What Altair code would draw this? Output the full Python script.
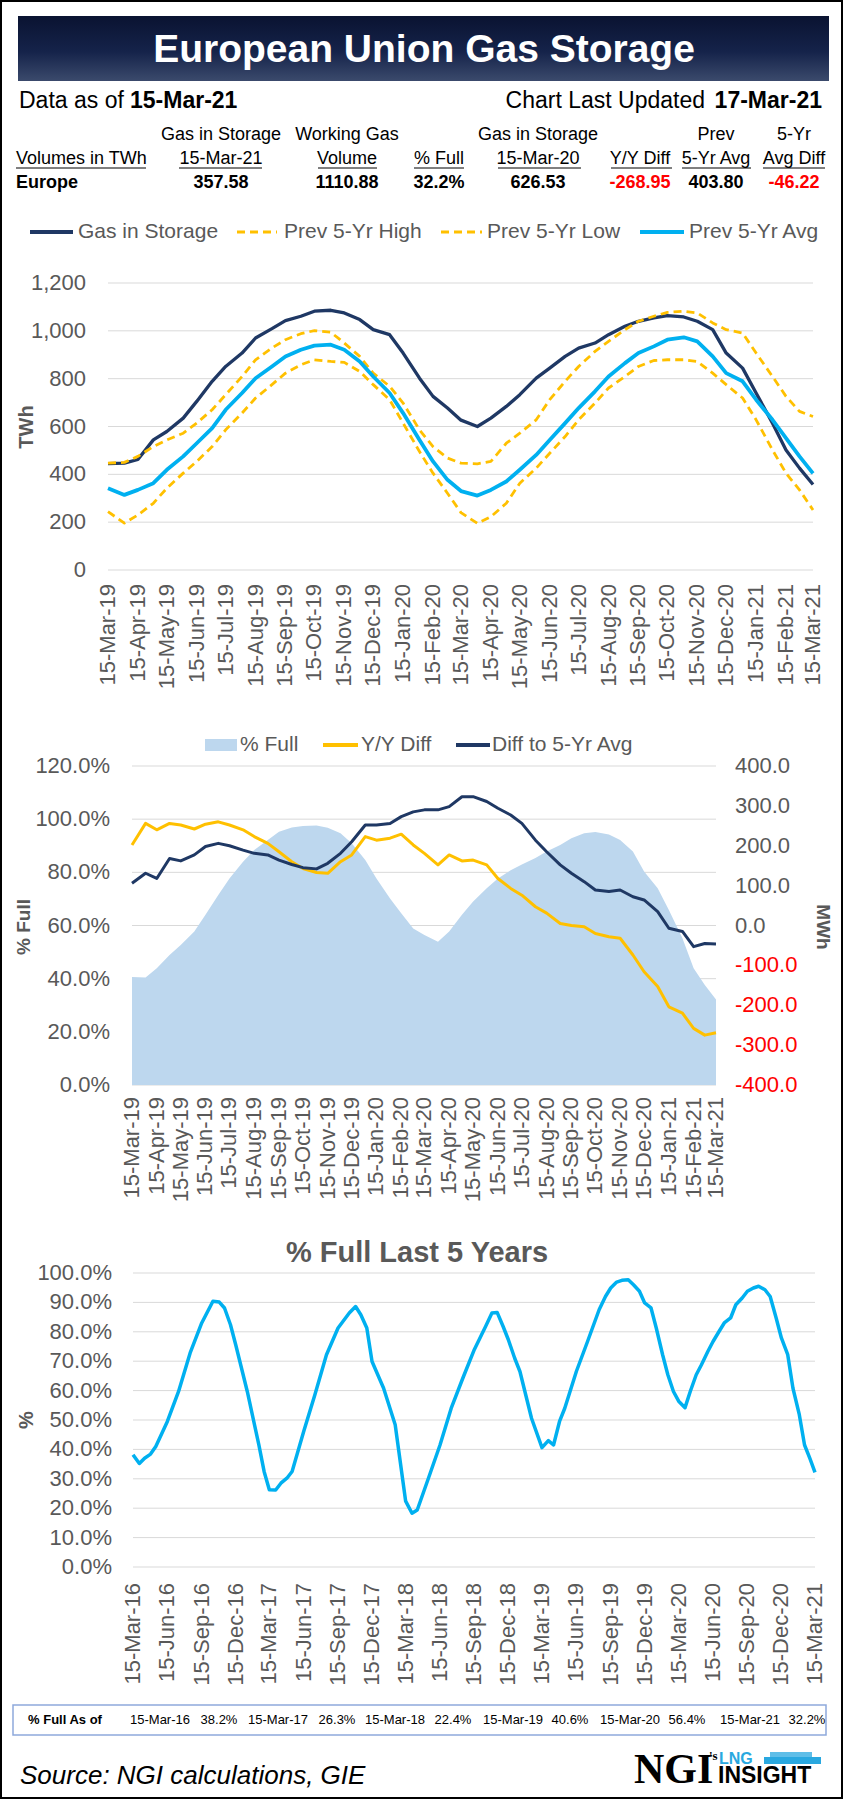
import altair as alt
import pandas as pd

# ---------------------------------------------------------------- data
MONTH_LABELS = [
    "15-Mar-19", "15-Apr-19", "15-May-19", "15-Jun-19", "15-Jul-19", "15-Aug-19",
    "15-Sep-19", "15-Oct-19", "15-Nov-19", "15-Dec-19", "15-Jan-20", "15-Feb-20",
    "15-Mar-20", "15-Apr-20", "15-May-20", "15-Jun-20", "15-Jul-20", "15-Aug-20",
    "15-Sep-20", "15-Oct-20", "15-Nov-20", "15-Dec-20", "15-Jan-21", "15-Feb-21",
    "15-Mar-21",
]
QUARTER_LABELS = [
    "15-Mar-16", "15-Jun-16", "15-Sep-16", "15-Dec-16", "15-Mar-17", "15-Jun-17",
    "15-Sep-17", "15-Dec-17", "15-Mar-18", "15-Jun-18", "15-Sep-18", "15-Dec-18",
    "15-Mar-19", "15-Jun-19", "15-Sep-19", "15-Dec-19", "15-Mar-20", "15-Jun-20",
    "15-Sep-20", "15-Dec-20", "15-Mar-21",
]

# Twice-monthly readings (15th and 1st), 15-Mar-19 .. 15-Mar-21, TWh
gas_in_storage = [445, 447, 462, 544, 579, 635, 705, 789, 851, 907, 970, 1009, 1043, 1061,
                  1082, 1086, 1075, 1047, 1005, 984, 907, 802, 726, 677, 626.53, 600, 635,
                  684, 733, 802, 844, 893, 928, 949, 984, 1019, 1040, 1054, 1064, 1058, 1040,
                  1005, 907, 844, 740, 614, 502, 426, 357.58]
prev_5yr_high = [447, 450, 475, 516, 544, 572, 614, 670, 733, 809, 879, 928, 963, 988, 1001,
                 994, 949, 893, 823, 768, 698, 586, 516, 468, 447, 444, 454, 530, 572, 628,
                 712, 789, 851, 914, 956, 1005, 1040, 1061, 1077, 1082, 1075, 1033, 1005, 991,
                 907, 809, 726, 663, 642]
prev_5yr_low = [244, 196, 230, 279, 342, 405, 454, 516, 586, 656, 719, 775, 823, 858, 879,
                872, 868, 830, 775, 712, 614, 495, 405, 321, 240, 195, 223, 279, 363, 426,
                488, 558, 628, 698, 761, 809, 851, 876, 879, 879, 872, 823, 775, 719, 628,
                502, 405, 335, 251]
prev_5yr_avg = [342, 314, 335, 363, 419, 475, 530, 593, 670, 740, 802, 851, 893, 921, 938,
                942, 921, 872, 809, 740, 656, 544, 454, 377, 330, 311, 335, 370, 419, 481,
                544, 614, 677, 747, 809, 865, 907, 935, 963, 973, 956, 893, 823, 789, 712,
                628, 551, 475, 403.80]
pct_full = [40.6, 40.4, 43.9, 48.9, 52.7, 57.7, 64.0, 71.5, 77.7, 84.0, 88.4, 92.2, 95.3,
            96.9, 97.4, 97.6, 96.8, 94.7, 90.9, 84.6, 77.7, 70.2, 64.6, 58.9, 56.4, 53.9,
            57.7, 64.0, 69.0, 74.0, 77.7, 80.8, 82.9, 85.4, 87.8, 90.3, 92.8, 94.7, 95.2,
            94.2, 92.2, 87.8, 80.3, 74.0, 65.8, 55.2, 43.9, 37.6, 32.2]
yy_diff = [202, 256, 240, 256, 252, 242, 254, 260, 252, 240, 223, 206, 185, 160, 143, 133,
           131, 160, 177, 223, 214, 219, 229, 202, 181, 152, 177, 162, 164, 152, 118, 93, 76,
           47, 31, 5, 0, -3, -20, -28, -32, -74, -116, -153, -204, -220, -258, -275, -268.95]
diff_5yr_avg = [106, 131, 118, 168, 162, 177, 198, 206, 200, 189, 181, 177, 164, 153, 145,
                142, 156, 181, 210, 252, 252, 256, 273, 285, 290, 290, 298, 323, 323, 311,
                294, 277, 256, 214, 185, 152, 131, 110, 89, 85, 89, 72, 64, 35, -7, -15, -53,
                -45, -46.22]

# % full over five years
pf5_dates = [
    "2016-03-15", "2016-04-01", "2016-04-15", "2016-05-01", "2016-05-15", "2016-06-15",
    "2016-07-15", "2016-08-15", "2016-09-15", "2016-10-15", "2016-11-01", "2016-11-15",
    "2016-12-01", "2016-12-15",
    "2017-01-15", "2017-02-15", "2017-03-01", "2017-03-15", "2017-04-01", "2017-04-15",
    "2017-05-01", "2017-05-15", "2017-06-15", "2017-07-15", "2017-08-15", "2017-09-15",
    "2017-10-15", "2017-11-01", "2017-11-15", "2017-12-01", "2017-12-15",
    "2018-01-15", "2018-02-15", "2018-03-15", "2018-04-01", "2018-04-15", "2018-05-15",
    "2018-06-15", "2018-07-15", "2018-08-15", "2018-09-15", "2018-10-15", "2018-11-01",
    "2018-11-15", "2018-12-01", "2018-12-15",
    "2019-01-01", "2019-01-15", "2019-02-15", "2019-03-15", "2019-04-01", "2019-04-15",
    "2019-05-01", "2019-05-15", "2019-06-15", "2019-07-15", "2019-08-15", "2019-09-01",
    "2019-09-15", "2019-10-01", "2019-10-15", "2019-11-01", "2019-11-15", "2019-12-01",
    "2019-12-15",
    "2020-01-01", "2020-01-15", "2020-02-01", "2020-02-15", "2020-03-01", "2020-03-15",
    "2020-04-01", "2020-04-15", "2020-05-01", "2020-05-15", "2020-06-01", "2020-06-15",
    "2020-07-01", "2020-07-15", "2020-08-01", "2020-08-15", "2020-09-01", "2020-09-15",
    "2020-10-01", "2020-10-15", "2020-11-01", "2020-11-15", "2020-12-01", "2020-12-15",
    "2021-01-01", "2021-01-15", "2021-02-01", "2021-02-15", "2021-03-01", "2021-03-15",
]
pf5_values = [
    38.2, 35.2, 37.0, 38.4, 41.0, 49.5, 59.7, 72.8, 83.0, 90.4, 90.1, 88.1, 82.4, 75.6,
    59.7, 41.5, 32.5, 26.3, 26.2, 28.5, 30.2, 32.5, 46.1, 58.6, 72.2, 81.3, 86.4, 88.6,
    85.8, 81.3, 69.9,
    60.8, 48.4, 22.4, 18.3, 19.4, 30.2, 41.5, 54.0, 64.2, 74.0, 81.8, 86.4, 86.6, 81.8, 77.3,
    71.0, 66.5, 50.6, 40.6, 43.0, 41.5, 49.5, 54.0, 66.5, 76.7, 87.5, 92.0, 94.9, 96.9, 97.5,
    97.7, 96.0, 93.8, 89.8,
    88.1, 81.3, 72.2, 65.4, 59.7, 56.4, 54.2, 59.7, 65.4, 68.8, 73.3, 76.7, 80.1, 83.0, 84.7,
    89.2, 91.5, 93.8, 94.9, 95.5, 94.3, 92.0, 84.7, 77.9,
    72.2, 60.8, 51.8, 41.5, 37.0, 32.2,
]

snapshot_dates = ["15-Mar-16", "15-Mar-17", "15-Mar-18", "15-Mar-19", "15-Mar-20", "15-Mar-21"]
snapshot_pct = [38.2, 26.3, 22.4, 40.6, 56.4, 32.2]

summary_headers_1 = ["Gas in Storage", "Working Gas", "", "Gas in Storage", "", "Prev", "5-Yr"]
summary_headers_2 = ["15-Mar-21", "Volume", "% Full", "15-Mar-20", "Y/Y Diff", "5-Yr Avg", "Avg Diff"]
summary_values = [357.58, 1110.88, 32.2, 626.53, -268.95, 403.80, -46.22]

twh_ticks = [0, 200, 400, 600, 800, 1000, 1200]
pct_ticks = [0, 20, 40, 60, 80, 100, 120]
mwh_ticks = [-400, -300, -200, -100, 0, 100, 200, 300, 400]
pf5_ticks = [0, 10, 20, 30, 40, 50, 60, 70, 80, 90, 100]

# ---------------------------------------------------------------- style
FONT = "Liberation Sans, Arial, Helvetica, sans-serif"
NARROW = "Liberation Sans Narrow, Arial Narrow, Liberation Sans, sans-serif"
SERIF = "Liberation Serif, Times New Roman, serif"
GRAY = "#595959"
NAVY = "#1F3864"
GOLD = "#FFC000"
CYAN = "#00B0F0"
AREA = "#BDD7EE"
GRID = "#D9D9D9"
RED = "#FF0000"

ONE = pd.DataFrame({"k": [0]})


def iso(label):
    return pd.to_datetime(label, format="%d-%b-%y").strftime("%Y-%m-%d")


def half_month_dates(labels):
    out = []
    for i, lbl in enumerate(labels):
        d = pd.to_datetime(lbl, format="%d-%b-%y")
        out.append(d.strftime("%Y-%m-%d"))
        if i < len(labels) - 1:
            nxt = (d + pd.DateOffset(months=1)).replace(day=1)
            out.append(nxt.strftime("%Y-%m-%d"))
    return out


def time_scale(first, last, x0, x1):
    a, b = pd.Timestamp(iso(first)), pd.Timestamp(iso(last))
    return alt.Scale(
        domain=[alt.DateTime(year=a.year, month=a.month, date=a.day, utc=True),
                alt.DateTime(year=b.year, month=b.month, date=b.day, utc=True)],
        range=[x0, x1])


def lin_scale(lo, hi, y_lo, y_hi):
    return alt.Scale(domain=[lo, hi], range=[y_lo, y_hi], nice=False, zero=False)


def note(text, x, y, size, color="black", weight="normal", align="left", angle=0,
         style="normal", font=FONT, baseline="middle"):
    return alt.Chart(ONE).mark_text(
        align=align, baseline=baseline, angle=angle, fontSize=size, fontWeight=weight,
        fontStyle=style, font=font, color=color,
    ).encode(x=alt.value(x), y=alt.value(y), text=alt.value(text))


def hline(x1, x2, y, color, width, dash=None):
    kw = dict(color=color, strokeWidth=width)
    if dash:
        kw["strokeDash"] = dash
    return alt.Chart(ONE).mark_rule(**kw).encode(
        x=alt.value(x1), x2=alt.value(x2), y=alt.value(y))


def box(x1, x2, y1, y2, **mark):
    return alt.Chart(ONE).mark_rect(**mark).encode(
        x=alt.value(x1), x2=alt.value(x2), y=alt.value(y1), y2=alt.value(y2))


def gridlines(ticks, ys, x0, x1):
    return alt.Chart(pd.DataFrame({"v": ticks})).mark_rule(color=GRID, strokeWidth=1).encode(
        y=alt.Y("v:Q", scale=ys, axis=None), x=alt.value(x0), x2=alt.value(x1))


def tick_labels(ticks, labels, ys, x, align, colors=None, size=22):
    df = pd.DataFrame({"v": ticks, "label": labels,
                       "c": colors if colors else [GRAY] * len(ticks)})
    return alt.Chart(df).mark_text(align=align, baseline="middle", fontSize=size, font=FONT).encode(
        y=alt.Y("v:Q", scale=ys, axis=None), x=alt.value(x), text="label:N",
        color=alt.Color("c:N", scale=None))


def date_labels(labels, xs, y, size=22):
    df = pd.DataFrame({"date": [iso(l) for l in labels], "label": labels})
    return alt.Chart(df).mark_text(angle=270, align="right", baseline="middle",
                                   fontSize=size, font=FONT, color=GRAY).encode(
        x=alt.X("date:T", scale=xs, axis=None), y=alt.value(y), text="label:N")


def series_line(df, field, xs, ys, color, width, dash=None):
    kw = dict(color=color, strokeWidth=width, strokeJoin="round")
    if dash:
        kw["strokeDash"] = dash
    return alt.Chart(df).mark_line(**kw).encode(
        x=alt.X("date:T", scale=xs, axis=None),
        y=alt.Y(f"{field}:Q", scale=ys, axis=None))


layers = []

# ---------------------------------------------------------------- frame and banner
layers.append(box(1, 842, 1, 1798, fill="white", stroke="black", strokeWidth=2))
layers.append(box(18, 829, 16, 81, fill={
    "gradient": "linear", "x1": 0, "y1": 0, "x2": 0, "y2": 1,
    "stops": [{"offset": 0, "color": "#0A1331"},
              {"offset": 0.55, "color": "#15234A"},
              {"offset": 1, "color": "#3B4A6C"}]}))
layers.append(note("European Union Gas Storage", 424, 50, 39, color="white",
                   weight="bold", align="center"))

# ---------------------------------------------------------------- header block
layers.append(note("Data as of ", 19, 101, 23))
layers.append(note("15-Mar-21", 130, 101, 23, weight="bold"))
layers.append(note("Chart Last Updated", 705, 101, 23, align="right"))
layers.append(note("17-Mar-21", 822, 101, 23, weight="bold", align="right"))

col_x = [221, 347, 439, 538, 640, 716, 794]
underline = [(179, 262), (318, 377), (414, 464), (498, 581), (611, 672), (682, 751), (763, 825)]
layers.append(note("Volumes in TWh", 16, 159, 18))
layers.append(hline(16, 146, 168, "black", 1))
layers.append(note("Europe", 16, 183, 18, weight="bold"))
for cx, h1, h2, v, (u0, u1) in zip(col_x, summary_headers_1, summary_headers_2,
                                    summary_values, underline):
    if h1:
        layers.append(note(h1, cx, 135, 18, align="center"))
    layers.append(note(h2, cx, 159, 18, align="center"))
    layers.append(hline(u0, u1, 168, "black", 1))
    if h2 == "% Full":
        txt = f"{v:.1f}%"
    else:
        txt = f"{v:.2f}"
    layers.append(note(txt, cx, 183, 18, weight="bold", align="center",
                       color=RED if v < 0 else "black"))

# ---------------------------------------------------------------- chart 1: TWh
half_dates = half_month_dates(MONTH_LABELS)
df1 = pd.DataFrame({"date": half_dates, "storage": gas_in_storage, "high": prev_5yr_high,
                    "low": prev_5yr_low, "avg": prev_5yr_avg})
X1 = time_scale(MONTH_LABELS[0], MONTH_LABELS[-1], 108, 813)
Y1 = lin_scale(0, 1200, 570, 283)

layers.append(gridlines(twh_ticks, Y1, 108, 813))
layers.append(series_line(df1, "storage", X1, Y1, NAVY, 3.3))
layers.append(series_line(df1, "high", X1, Y1, GOLD, 2.8, dash=[8, 5]))
layers.append(series_line(df1, "low", X1, Y1, GOLD, 2.8, dash=[8, 5]))
layers.append(series_line(df1, "avg", X1, Y1, CYAN, 3.8))
layers.append(tick_labels(twh_ticks, [f"{t:,}" for t in twh_ticks], Y1, 86, "right"))
layers.append(date_labels(MONTH_LABELS, X1, 584))
layers.append(note("TWh", 27, 427, 20, color=GRAY, weight="bold", align="center", angle=270))

# legend
layers.append(hline(30, 73, 232, NAVY, 4))
layers.append(note("Gas in Storage", 78, 232, 21, color=GRAY))
layers.append(hline(237, 277, 232, GOLD, 3, dash=[8, 5]))
layers.append(note("Prev 5-Yr High", 284, 232, 21, color=GRAY))
layers.append(hline(441, 482, 232, GOLD, 3, dash=[8, 5]))
layers.append(note("Prev 5-Yr Low", 487, 232, 21, color=GRAY))
layers.append(hline(640, 684, 232, CYAN, 4))
layers.append(note("Prev 5-Yr Avg", 689, 232, 21, color=GRAY))

# ---------------------------------------------------------------- chart 2: % full and diffs
df2 = pd.DataFrame({"date": half_dates, "pct": pct_full, "yy": yy_diff, "d5": diff_5yr_avg})
X2 = time_scale(MONTH_LABELS[0], MONTH_LABELS[-1], 132, 716)
YL2 = lin_scale(0, 120, 1085, 766)
YR2 = lin_scale(-400, 400, 1085, 766)

layers.append(gridlines(pct_ticks, YL2, 132, 716))
layers.append(alt.Chart(df2).mark_area(color=AREA, opacity=1).encode(
    x=alt.X("date:T", scale=X2, axis=None),
    y=alt.Y("pct:Q", scale=YL2, axis=None),
    y2=alt.datum(0)))
layers.append(series_line(df2, "yy", X2, YR2, GOLD, 3))
layers.append(series_line(df2, "d5", X2, YR2, NAVY, 3))
layers.append(tick_labels(pct_ticks, [f"{t:.1f}%" for t in pct_ticks], YL2, 110, "right"))
layers.append(tick_labels(mwh_ticks, [f"{t:.1f}" for t in mwh_ticks], YR2, 735, "left",
                          colors=[RED if t < 0 else GRAY for t in mwh_ticks]))
layers.append(date_labels(MONTH_LABELS, X2, 1097))
layers.append(note("% Full", 24, 927, 19, color=GRAY, weight="bold", align="center", angle=270))
layers.append(note("MWh", 823, 927, 19, color=GRAY, weight="bold", align="center", angle=90))

# legend
layers.append(box(205, 237, 739, 751, fill=AREA))
layers.append(note("% Full", 240, 745, 21, color=GRAY))
layers.append(hline(323, 358, 745, GOLD, 4))
layers.append(note("Y/Y Diff", 361, 745, 21, color=GRAY))
layers.append(hline(456, 490, 745, NAVY, 4))
layers.append(note("Diff to 5-Yr Avg", 492, 745, 21, color=GRAY))

# ---------------------------------------------------------------- chart 3: five years
df3 = pd.DataFrame({"date": pf5_dates, "pct": pf5_values})
X3 = time_scale(QUARTER_LABELS[0], QUARTER_LABELS[-1], 133, 815)
Y3 = lin_scale(0, 100, 1567, 1273)

layers.append(note("% Full Last 5 Years", 417, 1253, 29, color=GRAY, weight="bold",
                   align="center"))
layers.append(gridlines(pf5_ticks, Y3, 133, 815))
layers.append(series_line(df3, "pct", X3, Y3, CYAN, 3.5))
layers.append(tick_labels(pf5_ticks, [f"{t:.1f}%" for t in pf5_ticks], Y3, 112, "right"))
layers.append(date_labels(QUARTER_LABELS, X3, 1583))
layers.append(note("%", 27, 1420, 20, color=GRAY, weight="bold", align="center", angle=270))

# ---------------------------------------------------------------- snapshot strip
layers.append(box(13, 826, 1705, 1735, fill="white", stroke="#8EA9DB", strokeWidth=1.5))
layers.append(note("% Full As of", 65, 1720, 13, weight="bold", align="center", font=NARROW))
pair_date_x = [160, 278, 395, 513, 630, 750]
pair_pct_x = [219, 337, 453, 570, 687, 807]
for dx, px, lbl, p in zip(pair_date_x, pair_pct_x, snapshot_dates, snapshot_pct):
    layers.append(note(lbl, dx, 1720, 13, align="center", font=NARROW))
    layers.append(note(f"{p:.1f}%", px, 1720, 13, align="center", font=NARROW))

# ---------------------------------------------------------------- source and logo
layers.append(note("Source: NGI calculations, GIE", 20, 1776, 26, style="italic"))
layers.append(note("NGI", 634, 1783, 42, weight="bold", font=SERIF, baseline="alphabetic"))
layers.append(note("'s", 709, 1760, 13, weight="bold", font=SERIF, baseline="alphabetic"))
layers.append(note("LNG", 719, 1764, 16, weight="bold", color="#29A8E0", baseline="alphabetic"))
layers.append(box(764, 821, 1757, 1764, fill="#29A8E0"))
layers.append(box(770, 812, 1752, 1757, fill="#29A8E0", opacity=0.75))
layers.append(note("INSIGHT", 718, 1783, 23, weight="bold", baseline="alphabetic"))

chart = alt.layer(*layers).properties(
    width=844, height=1801,
    autosize=alt.AutoSizeParams(type="none"),
    padding=0,
    background="white",
).resolve_scale(
    x="independent", y="independent", color="independent"
).configure_view(strokeWidth=0)

chart.save("out.html", embed_options={"renderer": "svg", "actions": False})
